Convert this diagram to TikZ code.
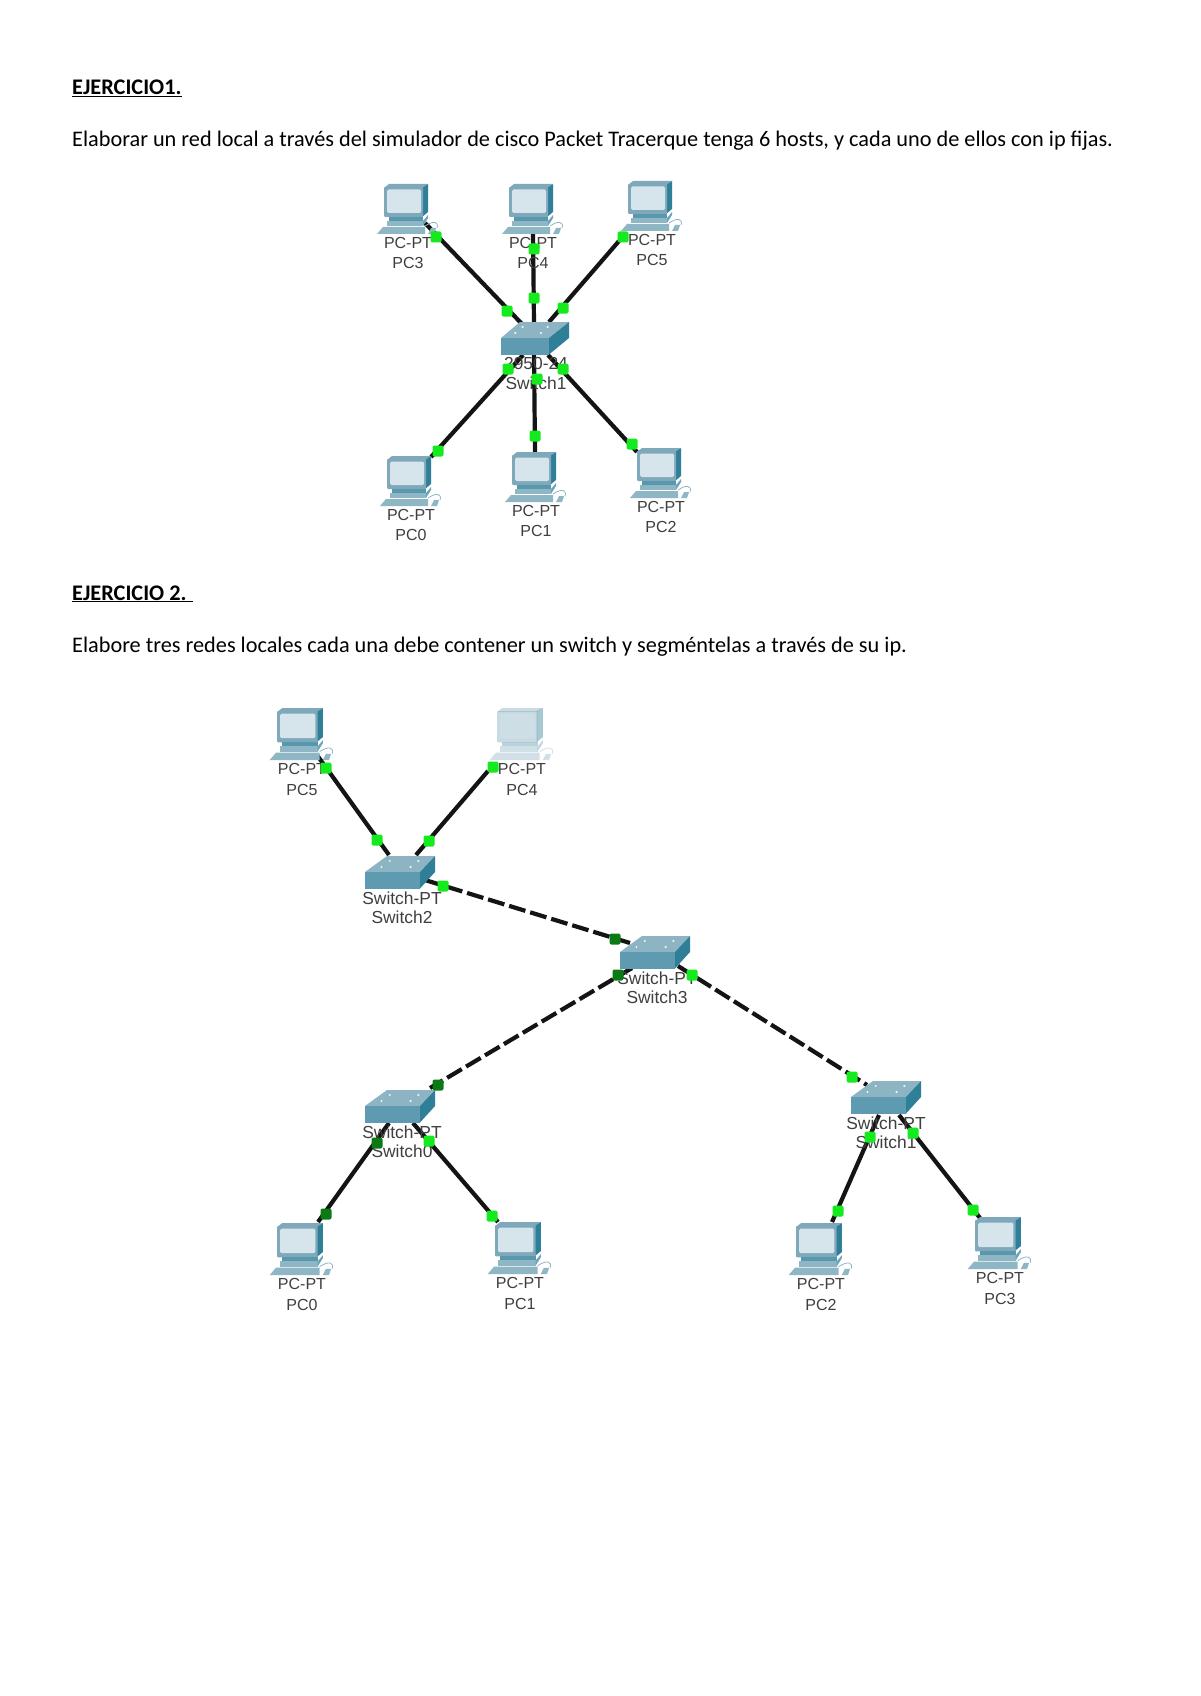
\documentclass[tikz,border=0pt]{standalone}
\usepackage{fontspec}
\setmainfont{Carlito}
\newfontfamily\ptfont{Liberation Sans}
\definecolor{pcframe}{HTML}{7FA9BA}
\definecolor{pcdark}{HTML}{2F7F99}
\definecolor{pcscreen}{HTML}{D6E4EB}
\definecolor{pckey}{HTML}{8FB6C5}
\definecolor{swfront}{HTML}{5F9BB0}
\definecolor{swtop}{HTML}{8DB4C2}
\definecolor{labelgrey}{HTML}{3F3F3F}
\definecolor{portbright}{HTML}{14EA1E}
\definecolor{portdark}{HTML}{0B7A14}
\tikzset{
  x=1pt,y=-1pt,
  heading/.style={anchor=base west,inner sep=0pt,font=\fontsize{22.3}{26}\selectfont\bfseries},
  bodytext/.style={anchor=base west,inner sep=0pt,font=\fontsize{22.27}{26}\selectfont},
  devlabel/.style={inner sep=0pt,text=labelgrey,font=\ptfont\fontsize{16}{18}\selectfont},
  swlabel/.style={inner sep=0pt,text=labelgrey,font=\ptfont\fontsize{17.4}{19}\selectfont},
  wire/.style={line width=4.2pt,draw=black!92},
  dashwire/.style={wire,dash pattern=on 17pt off 5pt},
  portbase/.style={rectangle,rounded corners=2pt,minimum size=11pt,inner sep=0pt},
  portb/.style={portbase,fill=portbright},
  portd/.style={portbase,fill=portdark},
}
% #1 name, #2 x, #3 y, #4 scale, #5 type, #6 label, #7 opacity
\newcommand{\pcicon}[7]{%
\begin{scope}[shift={(#2,#3)},scale=#4]
  \begin{scope}[opacity=#7]
  \fill[pcdark] (38,3) -- (44,0) -- (44,28) -- (38,33) -- cycle;
  \fill[pcframe] (0,4) -- (5,0) -- (44,0) -- (38,4) -- cycle;
  \fill[pcframe,rounded corners=1pt] (0,3) rectangle (39,33);
  \fill[pcscreen,rounded corners=1.5pt] (3,5.5) rectangle (37,29);
  \fill[pcdark!80] (5,33) rectangle (39,37);
  \fill[pckey] (3,37) rectangle (39,42);
  \fill[pcdark!70] (39,37) -- (44,31) -- (44,34) -- (39,42) -- cycle;
  \fill[pckey] (-7,50) -- (-1,43) -- (41,43) -- (41,50) -- cycle;
  \draw[pckey,line width=.8pt] (41,42) .. controls (50,36) and (55,38) .. (53,44);
  \fill[pckey] (47,44) -- (52,44) -- (50,50) -- (44,50) -- cycle;
  \end{scope}
  \node[devlabel] (#1t) at (24,59) {#5};
  \node[devlabel] (#1n) at (24,78.5) {#6};
\end{scope}}
% #1 name, #2 x, #3 y, #4 type, #5 label, #6 front width, #7 total width, #8 back-left x, #9 label x
\newcommand{\swicon}[9]{%
\begin{scope}[shift={(#2,#3)}]
  \fill[swtop] (0,0) -- (#8,-16) -- (#7,-16) -- (#6,0) -- cycle;
  \fill[swfront] (0,0) rectangle (#6,16.5);
  \fill[pcdark] (#6,0) -- (#7,-16) -- (#7,0) -- (#6,16.5) -- cycle;
  \fill[white!85!swtop] (0.3*#6,-5) circle (1.2) (0.45*#6,-11) circle (1.2) (0.97*#6,-11) circle (1.2) (0.83*#6,-5) circle (1.2);
  \node[swlabel] (#1t) at (#9,26) {#4};
  \node[swlabel] (#1n) at (#9,45.5) {#5};
\end{scope}}
\begin{document}
\begin{tikzpicture}
\useasboundingbox (0,0) rectangle (1200,1696);
\fill[white] (0,0) rectangle (1200,1696);

\node[heading] (h1) at (72,95) {\underline{EJERCICIO1.}};
\node[bodytext] (t1) at (72,147) {Elaborar un red local a través del simulador de cisco Packet Tracerque tenga 6 hosts, y cada uno de ellos con ip fijas.};
\node[heading] (h2) at (72,600) {\underline{EJERCICIO 2. }};
\node[bodytext] (t2) at (72,652) {Elabore tres redes locales cada una debe contener un switch y segméntelas a través de su ip.};

% --- link end points, diagram 1
\coordinate (a3) at (425,223); \coordinate (as3) at (522,324);
\coordinate (a4) at (533,233); \coordinate (as4) at (534,323);
\coordinate (a5) at (619,241); \coordinate (as5) at (549,322);
\coordinate (a0) at (431,457); \coordinate (as0) at (523,355);
\coordinate (a1) at (535,452); \coordinate (as1) at (534,355);
\coordinate (a2) at (637,452); \coordinate (as2) at (548,355);
\foreach \n in {0,...,5}{\draw[wire] (a\n) -- (as\n);}

% --- link end points, diagram 2
\coordinate (b5) at (317,755); \coordinate (bs5) at (389,855);
\coordinate (b4) at (488,771); \coordinate (bs4) at (416,855);
\coordinate (b0) at (318,1222); \coordinate (bs0) at (389,1123);
\coordinate (b1) at (498,1222); \coordinate (bs1) at (413,1123);
\coordinate (b2) at (832,1222); \coordinate (bs2) at (879,1115);
\coordinate (b3) at (980,1218); \coordinate (bs3) at (899,1115);
\foreach \n in {0,...,5}{\draw[wire] (b\n) -- (bs\n);}
\coordinate (d2) at (425,880); \coordinate (d3a) at (630,943);
\coordinate (d3b) at (632,968); \coordinate (d0) at (430,1088);
\coordinate (d3c) at (678,966); \coordinate (d1) at (867,1085);
\draw[dashwire] (d2) -- (d3a);
\draw[dashwire] (d3b) -- (d0);
\draw[dashwire] (d3c) -- (d1);

% --- devices, diagram 1
\pcicon{apc3}{384}{184}{1}{PC-PT}{PC3}{1}
\pcicon{apc4}{509}{184}{1}{PC-PT}{PC4}{1}
\pcicon{apc5}{628}{181}{1}{PC-PT}{PC5}{1}
\pcicon{apc0}{387}{456}{1}{PC-PT}{PC0}{1}
\pcicon{apc1}{512}{452}{1}{PC-PT}{PC1}{1}
\pcicon{apc2}{637}{448}{1}{PC-PT}{PC2}{1}
\swicon{asw}{501}{338}{2950-24}{Switch1}{48}{68}{19}{35}

% --- devices, diagram 2
\pcicon{bpc5}{277}{708}{1.04}{PC-PT}{PC5}{1}
\pcicon{bpc4}{497}{708}{1.04}{PC-PT}{PC4}{.42}
\pcicon{bpc0}{277}{1223}{1.04}{PC-PT}{PC0}{1}
\pcicon{bpc1}{495}{1222}{1.04}{PC-PT}{PC1}{1}
\pcicon{bpc2}{796}{1223}{1.04}{PC-PT}{PC2}{1}
\pcicon{bpc3}{975}{1217}{1.04}{PC-PT}{PC3}{1}
\swicon{bsw2}{365}{872}{Switch-PT}{Switch2}{55}{70}{22}{37}
\swicon{bsw3}{620}{952}{Switch-PT}{Switch3}{55}{70}{22}{37}
\swicon{bsw0}{365}{1106}{Switch-PT}{Switch0}{55}{70}{22}{37}
\swicon{bsw1}{851}{1097}{Switch-PT}{Switch1}{55}{70}{22}{35}

% --- ports, diagram 1
\node[portb] (p1) at (436,237) {};
\node[portb] (p2) at (507,311) {};
\node[portb] (p3) at (534,249) {};
\node[portb] (p4) at (534,298) {};
\node[portb] (p5) at (623,237) {};
\node[portb] (p6) at (563,308) {};
\node[portb] (p7) at (438,451) {};
\node[portb] (p8) at (508,369) {};
\node[portb] (p9) at (535,436) {};
\node[portb] (p10) at (537,379) {};
\node[portb] (p11) at (632,444) {};
\node[portb] (p12) at (563,369) {};

% --- ports, diagram 2
\node[portb] (q1) at (326,768) {};
\node[portb] (q2) at (377,840) {};
\node[portb] (q3) at (493,767) {};
\node[portb] (q4) at (429,841) {};
\node[portb] (q5) at (443,886) {};
\node[portd] (q6) at (615,939) {};
\node[portd] (q7) at (618,975) {};
\node[portd] (q8) at (438,1085) {};
\node[portb] (q9) at (692,975) {};
\node[portb] (q10) at (852,1077) {};
\node[portd] (q11) at (377,1143) {};
\node[portd] (q12) at (326,1214) {};
\node[portb] (q13) at (429,1141) {};
\node[portb] (q14) at (492,1216) {};
\node[portb] (q15) at (870,1137) {};
\node[portb] (q16) at (838,1211) {};
\node[portb] (q17) at (913,1133) {};
\node[portb] (q18) at (973,1210) {};
\end{tikzpicture}
\end{document}
